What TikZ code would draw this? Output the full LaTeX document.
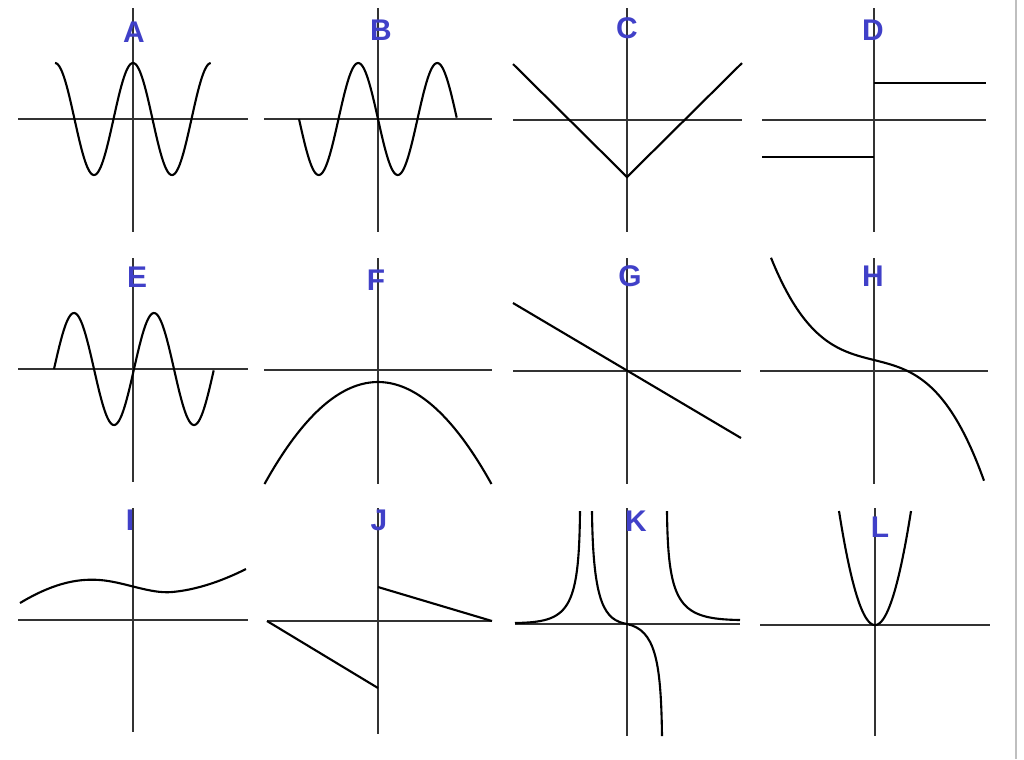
\documentclass[tikz,border=0pt]{standalone}
\usepackage{fontspec}
\setsansfont{Liberation Sans}
\begin{document}
\begin{tikzpicture}[x=0.01cm,y=-0.01cm,
  ax/.style={line width=0.35pt,black!80},
  cv/.style={line width=0.6pt,black},
  lab/.style={text=lbl,font=\sffamily\bfseries\fontsize{8.5}{8.5}\selectfont,inner sep=0pt}]
\definecolor{lbl}{RGB}{64,64,200}
\useasboundingbox (0,0) rectangle (1024,759);
\draw[black!25,line width=0.3pt] (1016,0) -- (1016,759);
% A
\draw[ax] (18,119) -- (248,119); \draw[ax] (133,8) -- (133,232);
\draw[cv] plot[variable=\t,domain=0:1,samples=150] ({55+156*\t},{119-56*cos(720*\t)});
\node[lab] (la) at (134,32) {A};
% B
\draw[ax] (264,119) -- (492,119); \draw[ax] (378,8) -- (378,232);
\draw[cv] plot[variable=\t,domain=0:1,samples=150] ({299+158*\t},{119+56*sin(720*\t)});
\node[lab] (lb) at (381,30) {B};
% C
\draw[ax] (513,120) -- (742,120); \draw[ax] (627,8) -- (627,232);
\draw[cv] (513,64) -- (627,177) -- (742,63);
\node[lab] (lc) at (627,28) {C};
% D
\draw[ax] (762,120) -- (986,120); \draw[ax] (874,8) -- (874,232);
\draw[cv] (762,157) -- (874,157); \draw[cv] (874,83) -- (986,83);
\node[lab] (ld) at (873,30) {D};
% E
\draw[ax] (18,369) -- (248,369); \draw[ax] (133,258) -- (133,482);
\draw[cv] plot[variable=\t,domain=0:1,samples=150] ({54+160*\t},{369-56*sin(720*\t)});
\node[lab] (le) at (137,277) {E};
% F
\draw[ax] (264,370) -- (492,370); \draw[ax] (378,258) -- (378,484);
\draw[cv] plot[variable=\t,domain=-1:1,samples=80] ({378+113.5*\t},{382+102*\t*\t});
\node[lab] (lf) at (376,280) {F};
% G
\draw[ax] (513,371) -- (741,371); \draw[ax] (627,258) -- (627,484);
\draw[cv] (513,303) -- (741,438);
\node[lab] (lg) at (630,276) {G};
% H
\draw[ax] (760,371) -- (988,371); \draw[ax] (874,258) -- (874,484);
\draw[cv] plot[variable=\t,domain=-1.03:1.1,samples=100] ({874+100*\t},{360+25*\t+70*\t*\t*\t});
\node[lab] (lh) at (873,276) {H};
% I
\draw[ax] (18,620) -- (248,620); \draw[ax] (133,508) -- (133,732);
\draw[cv] (20,603) .. controls (50,585) and (75,578) .. (100,580)
  .. controls (125,582) and (150,594) .. (172,592)
  .. controls (195,590) and (220,582) .. (246,569);
\node[lab] (li) at (130,520) {I};
% J
\draw[ax] (267,621) -- (492,621); \draw[ax] (378,508) -- (378,734);
\draw[cv] (267,621) -- (378,688); \draw[cv] (378,587) -- (492,621);
\node[lab] (lj) at (379,520) {J};
% K
\draw[ax] (515,624) -- (740,624); \draw[ax] (627,508) -- (627,736);
\draw[cv] (515,623) .. controls (568,622) and (579,612) .. (580,511);
\draw[cv] (592,511) .. controls (593,605) and (605,620) .. (627,624)
  .. controls (655,630) and (661,660) .. (662,736);
\draw[cv] (667,511) .. controls (668,606) and (680,619) .. (740,620);
\node[lab] (lk) at (636,521) {K};
% L
\draw[ax] (760,625) -- (990,625); \draw[ax] (875,508) -- (875,736);
\draw[cv] plot[variable=\t,domain=-1:1,samples=80] ({875+36*\t},{625-114*\t*\t});
\node[lab] (ll) at (880,527) {L};
\end{tikzpicture}
\end{document}
